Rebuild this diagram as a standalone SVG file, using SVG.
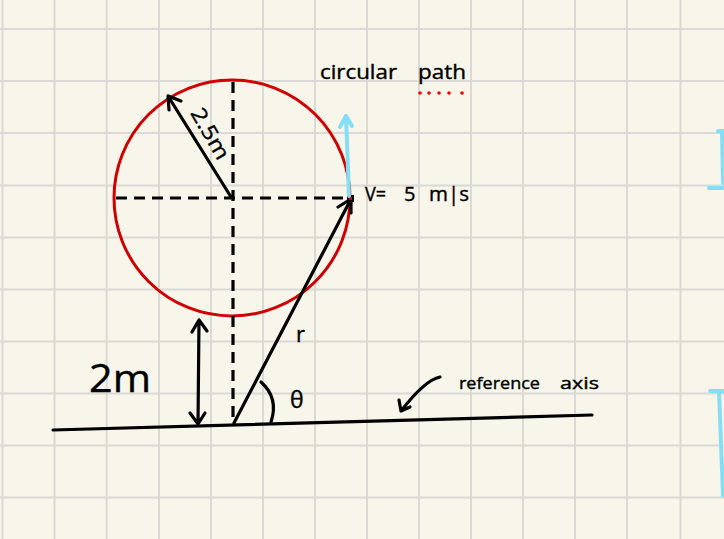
<svg xmlns="http://www.w3.org/2000/svg" width="724" height="539" viewBox="0 0 724 539">
<defs>
<style>
.grid line{stroke:#d9d9d6;stroke-width:2}
.ink{stroke:#000;stroke-width:3.2;fill:none;stroke-linecap:round;stroke-linejoin:round}
.dash{stroke:#000;stroke-width:3.2;fill:none;stroke-dasharray:11 7}
.blue{stroke:#85def5;stroke-width:4;fill:none;stroke-linecap:round;stroke-linejoin:round}
.hand{font-family:"Open Sans","Liberation Sans",sans-serif;fill:#000;stroke:#000;stroke-width:0.4}
</style>
</defs>
<rect width="724" height="539" fill="#f8f6ea"/>
<g class="grid">
<line x1="2.5" y1="0" x2="2.5" y2="539"/><line x1="54.5" y1="0" x2="54.5" y2="539"/><line x1="106.7" y1="0" x2="106.7" y2="539"/><line x1="159" y1="0" x2="159" y2="539"/><line x1="211" y1="0" x2="211" y2="539"/><line x1="263" y1="0" x2="263" y2="539"/><line x1="315" y1="0" x2="315" y2="539"/><line x1="367" y1="0" x2="367" y2="539"/><line x1="419" y1="0" x2="419" y2="539"/><line x1="471" y1="0" x2="471" y2="539"/><line x1="523" y1="0" x2="523" y2="539"/><line x1="575" y1="0" x2="575" y2="539"/><line x1="627" y1="0" x2="627" y2="539"/><line x1="680.5" y1="0" x2="680.5" y2="539"/>
<line x1="0" y1="29" x2="724" y2="29"/><line x1="0" y1="81" x2="724" y2="81"/><line x1="0" y1="133" x2="724" y2="133"/><line x1="0" y1="185.5" x2="724" y2="185.5"/><line x1="0" y1="237.5" x2="724" y2="237.5"/><line x1="0" y1="289.5" x2="724" y2="289.5"/><line x1="0" y1="341.5" x2="724" y2="341.5"/><line x1="0" y1="393.5" x2="724" y2="393.5"/><line x1="0" y1="445.5" x2="724" y2="445.5"/><line x1="0" y1="497.5" x2="724" y2="497.5"/>
</g>
<g id="circle">
<circle cx="232" cy="198" r="118" fill="none" stroke="#d10000" stroke-width="3"/>
</g>
<g id="guides">
<line class="dash" x1="233" y1="82" x2="233" y2="422"/>
<line class="dash" x1="116" y1="198" x2="348" y2="198"/>
</g>
<g id="connectors">
<path class="ink" d="M231 197 L168 96 M168 96 L169 110 M168 96 L181 101"/>
<path class="ink" d="M234 423 L351 199 M351 199 L338 207 M351 199 L351 213"/>
<rect x="347" y="195" width="7" height="7" fill="#000"/>
<rect x="349" y="197" width="3" height="3" fill="#d10000"/>
<path class="blue" d="M349 196 L346 116 M346 116 L340 127 M346 116 L352 126"/>
<path class="ink" d="M199 320 L198 424 M199 320 L192 332 M199 320 L207 331 M198 424 L190 413 M198 424 L205 413"/>
<path class="ink" d="M53 430 L592 415"/>
<path class="ink" d="M261 382 Q279 398 271 422"/>
<path class="ink" d="M440 377 Q425 380 401 411 M401 411 L399 400 M401 411 L410 407"/>
</g>
<g id="labels">
<text class="hand" x="0" y="0" font-size="21" textLength="56" lengthAdjust="spacingAndGlyphs" transform="translate(190 113) rotate(60)">2.5m</text>
<text class="hand" x="320" y="79" font-size="20" textLength="77" lengthAdjust="spacingAndGlyphs">circular</text>
<text class="hand" x="418" y="79" font-size="20" textLength="48" lengthAdjust="spacingAndGlyphs">path</text>
<g fill="#ff0000"><circle cx="420" cy="93" r="1.8"/><circle cx="429" cy="93" r="1.8"/><circle cx="439" cy="93" r="1.8"/><circle cx="449" cy="93" r="1.8"/><circle cx="462" cy="93" r="1.8"/></g>
<text class="hand" x="365" y="201" font-size="20" textLength="21" lengthAdjust="spacingAndGlyphs">V=</text>
<text class="hand" x="404" y="201" font-size="20">5</text>
<text class="hand" x="429" y="201" font-size="20" textLength="40" lengthAdjust="spacingAndGlyphs">m|s</text>
<text class="hand" x="296" y="342" font-size="22">r</text>
<text class="hand" x="89" y="392" font-size="38" textLength="62" lengthAdjust="spacingAndGlyphs">2m</text>
<text class="hand" x="290" y="408" font-size="23">θ</text>
<text class="hand" x="459" y="389" font-size="17" textLength="81" lengthAdjust="spacingAndGlyphs">reference</text>
<text class="hand" x="560" y="389" font-size="17" textLength="39" lengthAdjust="spacingAndGlyphs">axis</text>
</g>
<g id="edge-marks">
<path class="blue" d="M718 131 L724 131 M722 131 L723 183 M709 188 L724 188"/>
<path class="blue" d="M710 391 L724 391 M719 391 L723 495"/>
</g>
</svg>
